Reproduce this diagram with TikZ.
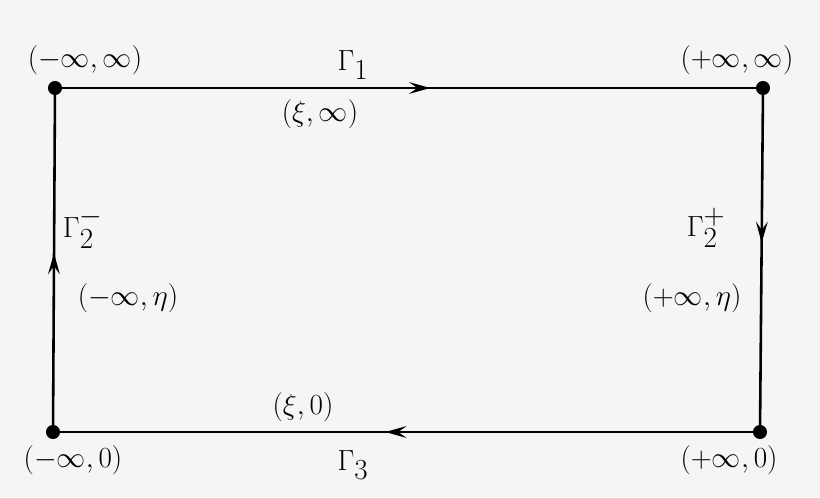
\documentclass[tikz,border=0pt]{standalone}
\usetikzlibrary{arrows.meta,decorations.markings}
\begin{document}
\begin{tikzpicture}[x=0.03cm,y=-0.03cm,
  lbl/.style={font=\fontsize{38}{44}\selectfont,inner sep=0pt},
  edge/.style={line width=2.2pt,postaction={decorate},decoration={markings,mark=at position #1 with {\arrow{Stealth[length=18pt,width=10pt,inset=7pt]}}}},
  dot/.style={circle,fill=black,inner sep=0pt,minimum size=12pt}]
\fill[white!96!black] (0,0) rectangle (820,497);
\useasboundingbox (0,0) rectangle (820,497);
\node[dot] (tl) at (55,88) {};
\node[dot] (tr) at (763,88) {};
\node[dot] (br) at (760,432) {};
\node[dot] (bl) at (53,432) {};
\draw[edge=0.53] (tl.center) -- (tr.center);
\draw[edge=0.45] (tr.center) -- (br.center);
\draw[edge=0.53] (br.center) -- (bl.center);
\draw[edge=0.52] (bl.center) -- (tl.center);
\node[lbl] (a) at (85,60) {$(-\infty,\infty)$};
\node[lbl] (b) at (737,60) {$(+\infty,\infty)$};
\node[lbl] (c) at (353,65) {$\Gamma_1$};
\node[lbl] (d) at (320,114) {$(\xi,\infty)$};
\node[lbl] (e) at (83,228) {$\Gamma_2^-$};
\node[lbl] (f) at (128,298) {$(-\infty,\eta)$};
\node[lbl] (g) at (706,228) {$\Gamma_2^+$};
\node[lbl] (h) at (692,298) {$(+\infty,\eta)$};
\node[lbl] (i) at (303,407) {$(\xi,0)$};
\node[lbl] (j) at (353,465) {$\Gamma_3$};
\node[lbl] (k) at (73,460) {$(-\infty,0)$};
\node[lbl] (l) at (729,460) {$(+\infty,0)$};
\end{tikzpicture}
\end{document}
